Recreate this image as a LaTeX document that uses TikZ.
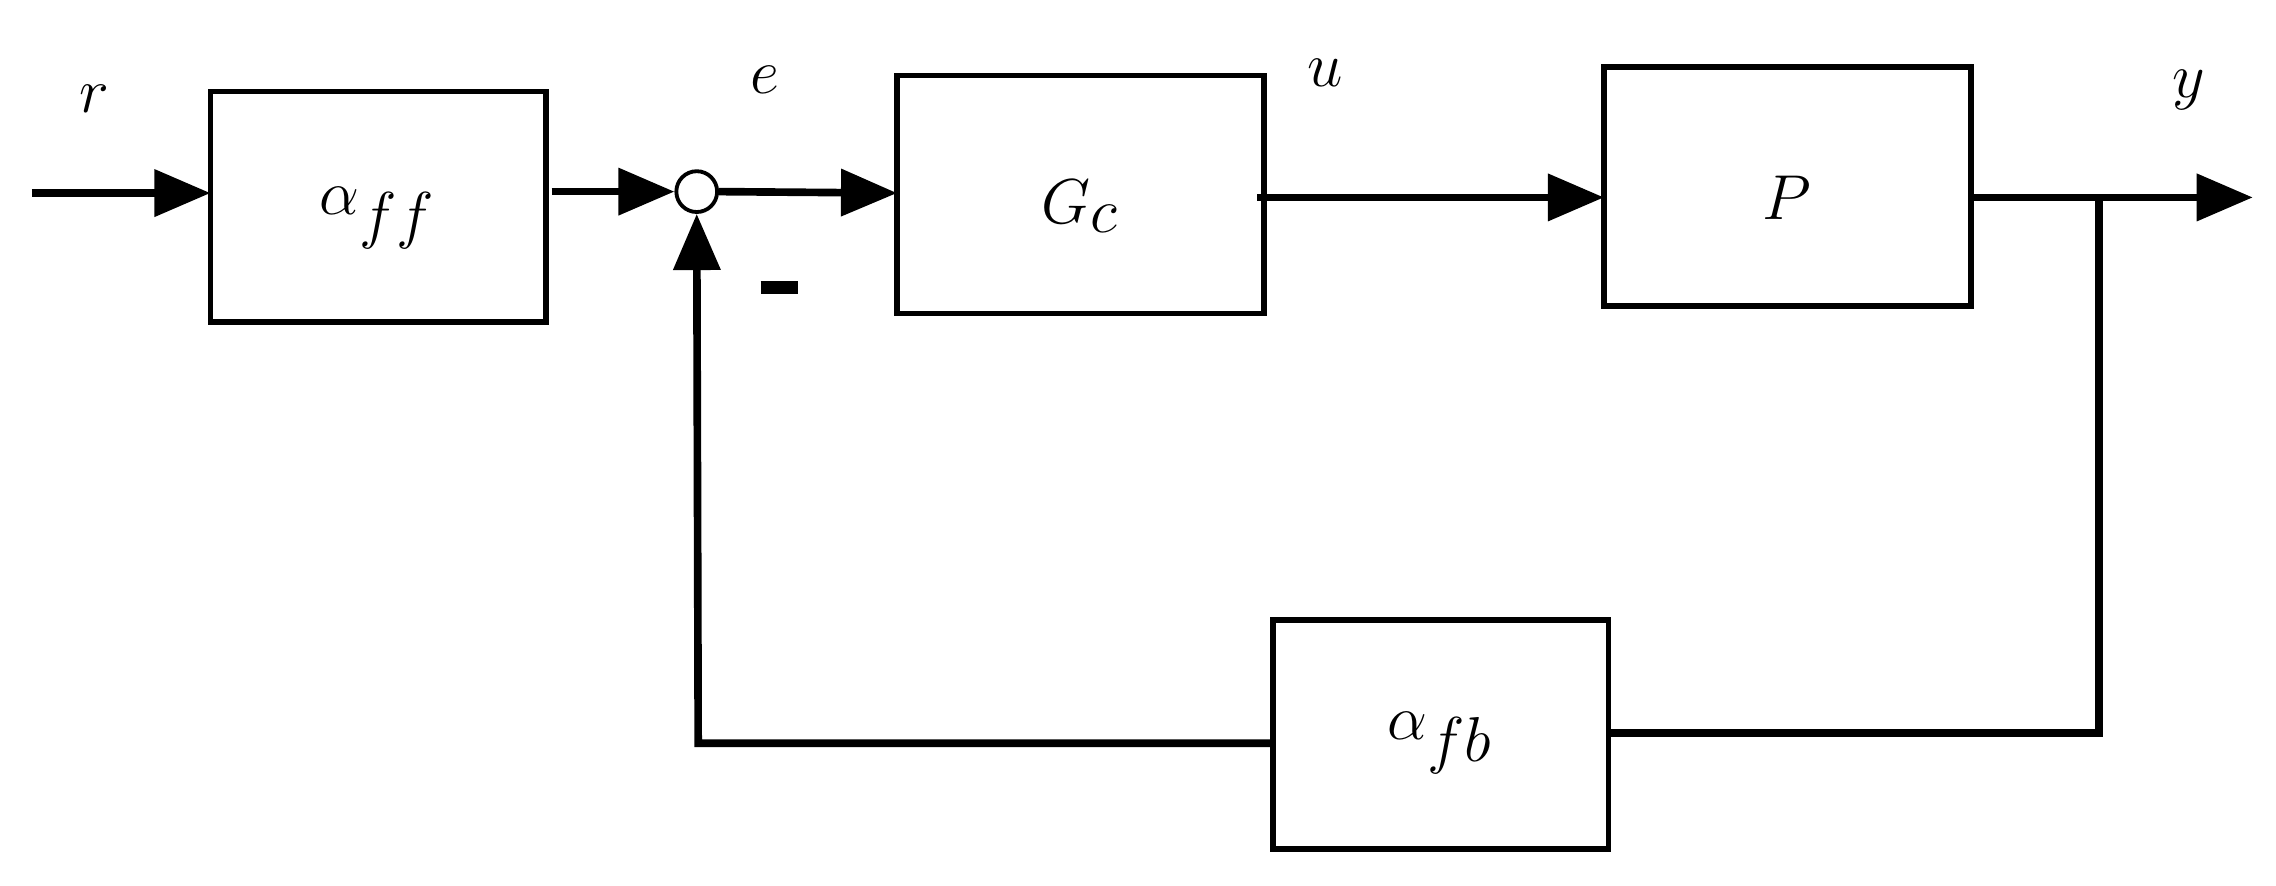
\documentclass[tikz,border=0pt]{standalone}
\usetikzlibrary{arrows.meta}
\begin{document}
\begin{tikzpicture}[x=0.02cm,y=-0.02cm,
  blk/.style={draw,line width=2.2pt,minimum width=#1},
  lnk/.style={line width=3pt},
  arr/.style={lnk,-{Triangle[length=22pt,width=18pt]}},
  lbl/.style={font=\fontsize{40}{48}\selectfont}]
\useasboundingbox (0,0) rectangle (1568,610);
\draw[blk] (145,63) rectangle (376,222);
\node[lbl] (aff) at (260,150) {$\alpha_{ff}$};
\draw[blk] (618,52) rectangle (871,216);
\node[lbl] (gc) at (744,142) {$G_c$};
\draw[blk] (1105,46) rectangle (1358,211);
\node[lbl] (p) at (1231,136) {$P$};
\draw[blk] (877,427) rectangle (1108,585);
\node[lbl] (afb) at (992,512) {$\alpha_{fb}$};
\node[draw,circle,line width=1.5pt,minimum size=16pt,inner sep=0pt] (s) at (480,132) {};
\coordinate (in) at (22,133);
\coordinate (out) at (1552,136);
\coordinate (br) at (1446,136);
\coordinate (c1) at (1446,505);
\coordinate (c2) at (481,512);
\draw[arr] (in) -- (145,133);
\draw[arr] (380,132) -- (s.west);
\draw[arr] (s.east) -- (618,133);
\draw[arr] (866,136) -- (1105,136);
\draw[arr] (1358,136) -- (out);
\draw[lnk] (br) -- (c1) -- (1108,505);
\draw[arr] (877,512) -- (c2) -- (s.south);
\draw[line width=5pt] (524,198) -- (550,198);
\node[lbl] (r) at (65,68) {$r$};
\node[lbl] (e) at (527,55) {$e$};
\node[lbl] (u) at (913,50) {$u$};
\node[lbl] (y) at (1508,62) {$y$};
\end{tikzpicture}
\end{document}
